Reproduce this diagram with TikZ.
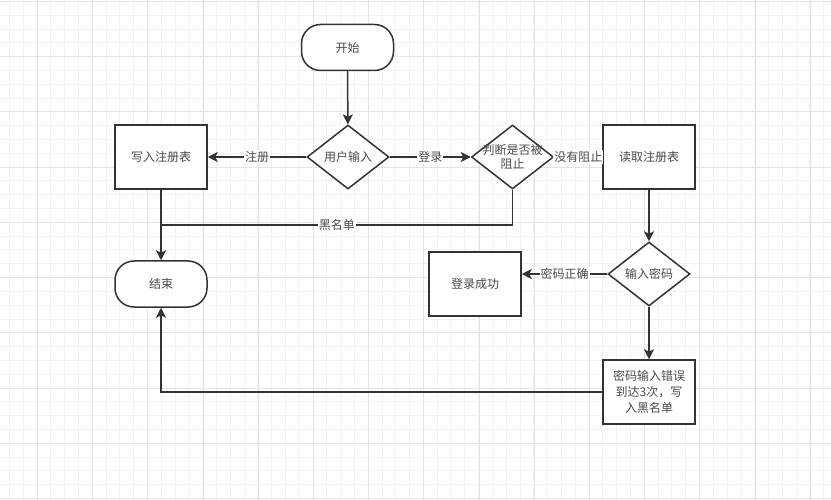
\documentclass[tikz,border=0pt]{standalone}
\usepackage{fontspec}
\setmainfont{Noto Sans CJK SC}
\usetikzlibrary{shapes.geometric,arrows.meta}
\definecolor{ln}{HTML}{333333}
\definecolor{tx}{HTML}{4A4A4A}
\definecolor{gminor}{HTML}{F2F2F2}
\definecolor{gmajor}{HTML}{E4E4E4}
\tikzset{
  base/.style={draw=ln, line width=1.5pt, fill=white, text=tx, font=\fontsize{12}{16}\selectfont, inner sep=0pt},
  boxnode/.style={base, rectangle, minimum width=92pt, minimum height=64pt, align=center},
  termnode/.style={base, rectangle, rounded corners=19pt, minimum width=92pt, minimum height=46pt},
  dianode/.style={base, diamond, minimum width=82pt, minimum height=64pt},
  txtnode/.style={text=tx, font=\fontsize{12}{14}\selectfont, inner sep=0pt, align=center},
  conn/.style={draw=ln, line width=1.5pt},
  arr/.style={conn, -{Stealth[length=10pt,width=10pt,inset=2.5pt]}},
  lbl/.style={fill=white, text=tx, font=\fontsize{12}{14}\selectfont, inner sep=1pt}
}
\begin{document}
\begin{tikzpicture}[x=1pt,y=-1pt]
\fill[white] (0,0) rectangle (831,500);
\useasboundingbox (0,0) rectangle (831,500);
% grid
\foreach \i in {0,...,60} {
  \draw[gminor, line width=0.8pt] ({9.3+13.8*\i},0) -- ++(0,500);
}
\foreach \i in {0,...,36} {
  \draw[gminor, line width=0.8pt] (0,{1.5+13.8*\i}) -- ++(831,0);
}
\foreach \i in {0,...,15} {
  \draw[gmajor, line width=0.8pt] ({37.3+55.2*\i},0) -- ++(0,500);
}
\foreach \i in {0,...,9} {
  \draw[gmajor, line width=0.8pt] (0,{1.5+55.2*\i}) -- ++(831,0);
}
% nodes
\node[termnode] (start) at (347.5,47.5) {开始};
\node[dianode] (input) at (348,157) {};
\node[txtnode] (inputt) at (input) {用户输入};
\node[dianode] (judge) at (512.5,157) {};
\node[txtnode] (judget) at (judge) {判断是否被\\阻止};
\node[boxnode] (read) at (649,157) {读取注册表};
\node[boxnode] (write) at (161,157) {写入注册表};
\node[termnode] (end) at (161,284) {结束};
\node[dianode] (pwd) at (649,274) {};
\node[txtnode] (pwdt) at (pwd) {输入密码};
\node[boxnode] (ok) at (475,284) {登录成功};
\node[boxnode] (fail) at (649,392) {密码输入错误\\到达3次，写\\入黑名单};
\coordinate (jb) at (512.5,225);
\coordinate (wj) at (161,225);
\coordinate (fc) at (161,392);
% connectors
\draw[arr] (start) -- (input);
\draw[arr] (input) -- node[lbl] {注册} (write);
\draw[arr] (input) -- node[lbl] {登录} (judge);
\draw[arr] (judge) -- node[lbl] {没有阻止} (read);
\draw[conn] (judge.south) -- (jb) -- node[lbl] {黑名单} (wj);
\draw[arr] (write) -- (end);
\draw[arr] (read) -- (pwd);
\draw[arr] (pwd.west) -- node[lbl] {密码正确} (pwd.west -| ok.east);
\draw[arr] (pwd) -- (fail);
\draw[arr] (fail.west) -- (fc) -- (end.south);
\end{tikzpicture}
\end{document}
